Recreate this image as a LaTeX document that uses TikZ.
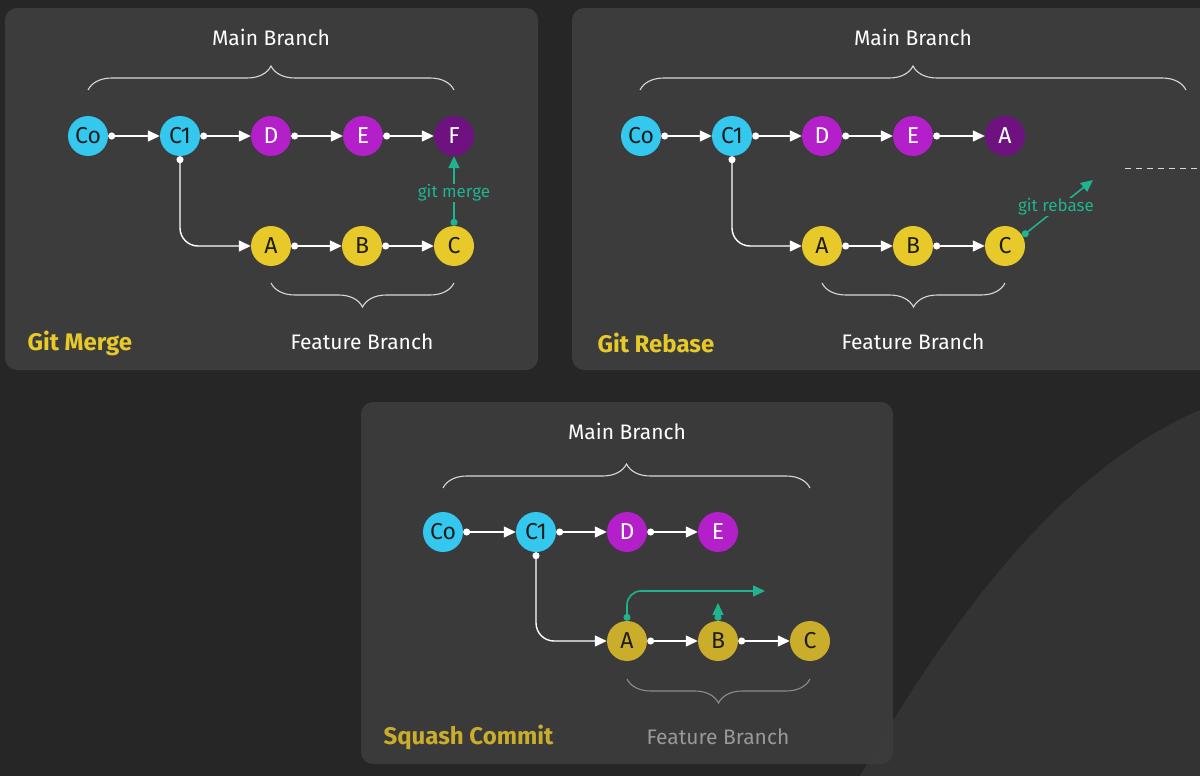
\documentclass[tikz,border=0pt]{standalone}
\usepackage{fontspec}
\setmainfont{Fira Sans}
\usetikzlibrary{decorations.pathreplacing,arrows.meta}
\definecolor{bg}{HTML}{262626}
\definecolor{panel}{HTML}{3C3C3C}
\definecolor{cy}{HTML}{35C8EF}
\definecolor{pu}{HTML}{B31FC9}
\definecolor{dp}{HTML}{6E1280}
\definecolor{ye}{HTML}{E8C92A}
\definecolor{ye2}{HTML}{CBAD2C}
\definecolor{tl}{HTML}{1FB38F}
\definecolor{ink}{HTML}{1E1E1E}
\begin{document}
\begin{tikzpicture}[x=1pt,y=-1pt,
  cmt/.style={circle,minimum size=40pt,inner sep=0pt,font=\fontsize{23}{23}\selectfont},
  cyn/.style={cmt,fill=cy,text=ink},
  pur/.style={cmt,fill=pu,text=white},
  fpu/.style={cmt,fill=dp,text=white},
  yel/.style={cmt,fill=ye,text=ink},
  yelb/.style={cmt,fill=ye2,text=ink},
  ar/.style={white,line width=1.4pt,{Circle[length=7pt]}-{Triangle[length=12pt,width=11pt]}},
  tar/.style={tl,line width=1.6pt,{Circle[length=7pt]}-{Triangle[length=12pt,width=11pt]}},
  br/.style={white!85!black,line width=1.1pt,decorate,decoration={brace,amplitude=24pt,raise=0pt}},
  lab/.style={white,font=\fontsize{21}{21}\selectfont},
  ttl/.style={font=\bfseries\fontsize{24}{24}\selectfont,anchor=west}]
\useasboundingbox (0,0) rectangle (1200,776);
\fill[bg] (0,0) rectangle (1200,776);
\fill[white!6!bg] (860,776) .. controls (950,620) and (1060,470) .. (1200,410) -- (1200,776) -- cycle;
\fill[panel,rounded corners=12pt] (5,8) rectangle (538,370);
\fill[panel,rounded corners=12pt] (572,8) rectangle (1215,370);
\fill[panel,rounded corners=12pt,opacity=0.92] (361,402) rectangle (893,764);
% Panel 1
\node[cyn] (a0) at (88,136) {Co};
\node[cyn] (a1) at (180,136) {C1};
\node[pur] (aD) at (271,136) {D};
\node[pur] (aE) at (363,136) {E};
\node[fpu] (aF) at (454,136) {F};
\node[yel] (aA) at (271,246) {A};
\node[yel] (aB) at (362,246) {B};
\node[yel] (aC) at (454,246) {C};
\draw[ar] (a0) -- (a1); \draw[ar] (a1) -- (aD); \draw[ar] (aD) -- (aE); \draw[ar] (aE) -- (aF);
\draw[ar] (aA) -- (aB); \draw[ar] (aB) -- (aC);
\draw[ar,rounded corners=18pt] (a1.south) |- (aA);
\draw[tar] (aC.north) -- (aF.south);
\node[fill=panel,text=tl,font=\fontsize{17}{17}\selectfont,inner sep=1pt] (am) at (454,193) {git merge};
\draw[br] (88,90) -- (454,90);
\node[lab] (amb) at (271,37) {Main Branch};
\draw[br] (454,283) -- (271,283);
\node[lab] (afb) at (362,342) {Feature Branch};
\node[ttl,text=ye] (at) at (24,343) {Git Merge};
% Panel 2
\node[cyn] (b0) at (641,136) {Co};
\node[cyn] (b1) at (732,136) {C1};
\node[pur] (bD) at (822,136) {D};
\node[pur] (bE) at (913,136) {E};
\node[fpu] (bA2) at (1005,136) {A};
\node[yel] (bA) at (822,246) {A};
\node[yel] (bB) at (913,246) {B};
\node[yel] (bC) at (1005,246) {C};
\draw[ar] (b0) -- (b1); \draw[ar] (b1) -- (bD); \draw[ar] (bD) -- (bE); \draw[ar] (bE) -- (bA2);
\draw[ar] (bA) -- (bB); \draw[ar] (bB) -- (bC);
\draw[ar,rounded corners=18pt] (b1.south) |- (bA);
\coordinate (bt) at (1093,180);
\draw[tar] (bC.30) -- (bt);
\node[fill=panel,text=tl,font=\fontsize{17}{17}\selectfont,inner sep=1pt] (bm) at (1056,207) {git rebase};
\draw[white!85!black,line width=1pt,dash pattern=on 6pt off 5pt] (1125,168) -- (1200,168);
\draw[br] (640,90) -- (1186,90);
\node[lab] (bmb) at (913,37) {Main Branch};
\draw[br] (1005,283) -- (822,283);
\node[lab] (bfb) at (913,342) {Feature Branch};
\node[ttl,text=ye] (bt2) at (594,343) {Git Rebase};
% Panel 3
\node[cyn] (c0) at (443,532) {Co};
\node[cyn] (c1) at (536,532) {C1};
\node[pur] (cD) at (627,532) {D};
\node[pur] (cE) at (718,532) {E};
\node[yelb] (cA) at (627,641) {A};
\node[yelb] (cB) at (718,641) {B};
\node[yelb] (cC) at (810,641) {C};
\draw[ar] (c0) -- (c1); \draw[ar] (c1) -- (cD); \draw[ar] (cD) -- (cE);
\draw[ar] (cA) -- (cB); \draw[ar] (cB) -- (cC);
\draw[ar,rounded corners=18pt] (c1.south) |- (cA);
\coordinate (ct) at (765,591);
\coordinate (cu) at (718,603);
\draw[tar,rounded corners=14pt] (cA.north) |- (ct);
\draw[tar] (cB.north) -- (cu);
\draw[br] (443,488) -- (810,488);
\node[lab] (cmb) at (627,431) {Main Branch};
\draw[br,white!55!black] (810,679) -- (627,679);
\node[lab,text=white!60!black] (cfb) at (718,737) {Feature Branch};
\node[ttl,text=ye2] (ct2) at (380,737) {Squash Commit};
\end{tikzpicture}
\end{document}
